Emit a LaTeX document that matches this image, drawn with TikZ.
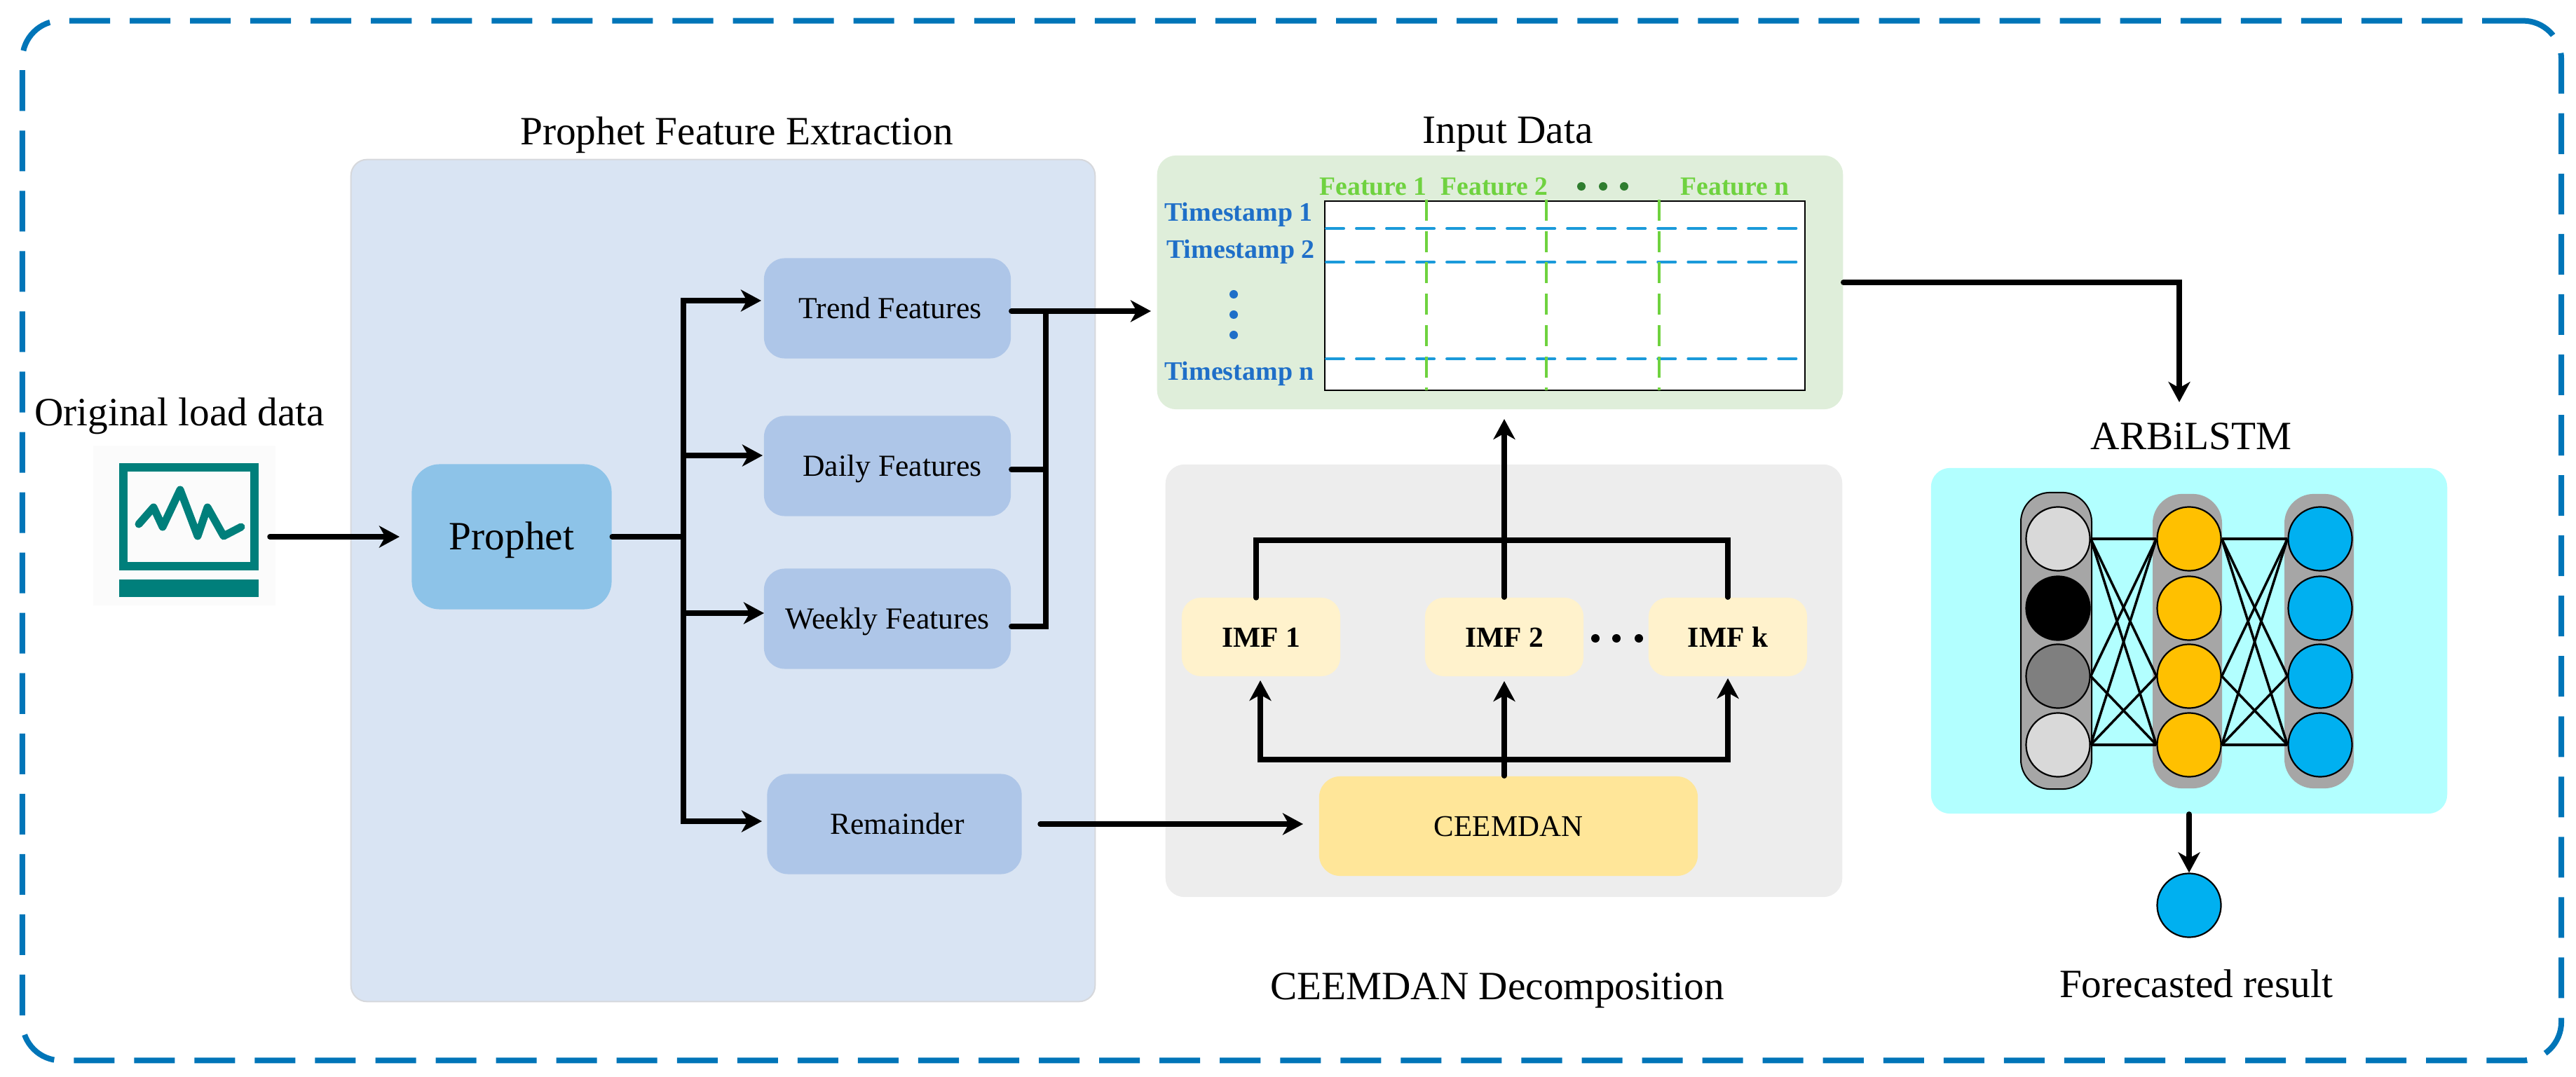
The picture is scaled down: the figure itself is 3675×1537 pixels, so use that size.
\documentclass[tikz,border=0pt]{standalone}
\usepackage{fontspec}
\setmainfont{Liberation Serif}
\usetikzlibrary{arrows.meta}

\definecolor{framecol}{HTML}{0075B8}
\definecolor{panelblue}{HTML}{D9E4F3}
\definecolor{panelline}{HTML}{D6D8DC}
\definecolor{prophetcol}{HTML}{8DC3E8}
\definecolor{featcol}{HTML}{AEC6E8}
\definecolor{inputcol}{HTML}{DFEEDA}
\definecolor{ceemcol}{HTML}{EDEDED}
\definecolor{imfcol}{HTML}{FFF2CC}
\definecolor{ceemboxcol}{HTML}{FFE699}
\definecolor{lstmcol}{HTML}{B2FFFF}
\definecolor{pillcol}{HTML}{A6A6A6}
\definecolor{iconcol}{HTML}{007F7B}
\definecolor{iconback}{HTML}{FBFBFB}
\definecolor{featgreen}{HTML}{6FD23F}
\definecolor{dotgreen}{HTML}{2F7D2F}
\definecolor{stampblue}{HTML}{1F6FC8}
\definecolor{rowblue}{HTML}{1B9ADA}
\definecolor{netlight}{HTML}{D9D9D9}
\definecolor{netdark}{HTML}{7F7F7F}
\definecolor{netyellow}{HTML}{FFC000}
\definecolor{netblue}{HTML}{00B0F0}

\tikzset{
  every picture/.style={x=.01cm, y=-.01cm},
  dot/.style={circle, fill=black, minimum size=#1,
                inner sep=0pt, outer sep=0pt},
  dot/.default={.12cm},
  title/.style={anchor=base, inner sep=0pt, font=\fontsize{16.3}{18}\selectfont},
  panel/.style={rounded corners=.27cm, inner sep=0pt},
  prophetbox/.style={panel, fill=prophetcol, rounded corners=.4cm,
                minimum width=2.85cm, minimum height=2.07cm,
                font=\fontsize{16.3}{18}\selectfont, text height=10.8pt, text depth=0pt},
  featbox/.style={panel, fill=featcol, rounded corners=.3cm,
                minimum width=3.52cm, minimum height=1.43cm,
                font=\fontsize{12.4}{14}\selectfont, text height=8.5pt, text depth=0pt},
  imfbox/.style={panel, fill=imfcol, minimum width=2.26cm, minimum height=1.12cm,
                font=\fontsize{11.8}{14}\selectfont\bfseries, text height=8pt, text depth=0pt},
  stamp/.style={anchor=base, inner sep=0pt, text=stampblue,
                font=\fontsize{10.8}{12}\selectfont\bfseries},
  feat/.style={anchor=base, inner sep=0pt, text=featgreen,
                font=\fontsize{10.7}{12}\selectfont\bfseries},
  conn/.style={line width=.075cm, line cap=round},
  arrow/.style={conn, -{Stealth[length=.29cm, width=.31cm, inset=.085cm]}},
  griddash/.style={featgreen, line width=.032cm, dash pattern=on .3cm off .147cm},
  rowdash/.style={rowblue, line width=.04cm, line cap=round, dash pattern=on .25cm off .18cm},
  pill/.style={fill=pillcol, rounded corners=.42cm, minimum width=.99cm,
                minimum height=4.2cm, inner sep=0pt},
  neuron/.style={circle, draw=black, line width=.022cm, minimum size=.91cm, inner sep=0pt},
  netline/.style={line width=.035cm},
}

\begin{document}
\begin{tikzpicture}
  \useasboundingbox (0,0) rectangle (3675,1537);

  % outer frame
  \node[draw=framecol, line width=.08cm, rounded corners=.55cm, inner sep=0pt,
        dash pattern=on .58cm off .28cm,
        minimum width=36.2cm, minimum height=14.83cm] (frame) at (1843,771.5) {};

  % panels
  \node[panel, fill=panelblue, draw=panelline, line width=.02cm, rounded corners=.23cm,
        minimum width=10.61cm, minimum height=12.01cm] (prophetpanel) at (1031.5,828.5) {};
  \node[panel, fill=inputcol, minimum width=9.78cm, minimum height=3.62cm] (inputpanel) at (2140,403) {};
  \node[panel, fill=ceemcol, minimum width=9.65cm, minimum height=6.17cm] (ceempanel) at (2145.5,971.5) {};
  \node[panel, fill=lstmcol, minimum width=7.36cm, minimum height=4.93cm] (lstmpanel) at (3123,914.5) {};

  % titles
  \node[title] (origtitle) at (256,608) {Original load data};
  \node[title] (prophettitle) at (1051,207) {Prophet Feature Extraction};
  \node[title] (inputtitle) at (2151,205) {Input Data};
  \node[title] (ceemtitle) at (2136,1426) {CEEMDAN Decomposition};
  \node[title] (lstmtitle) at (3126,642) {ARBiLSTM};
  \node[title] (resulttitle) at (3133,1423) {Forecasted result};

  % data icon
  \node[fill=iconback, minimum width=2.6cm, minimum height=2.28cm, inner sep=0pt] (icon) at (263,750) {};
  \draw[iconcol, line width=.125cm] (176,667) rectangle (363,808);
  \fill[iconcol] (170,827) rectangle (369,852);
  \draw[iconcol, line width=.11cm, line join=round, line cap=round]
    (198,748) -- (219,724) -- (232,752) -- (257,699) -- (282,765) -- (296,724) -- (319,765) -- (344,752);

  % prophet part
  \node[prophetbox] (prophet) at (730,766) {Prophet};
  \node[featbox] (trend) at (1266,440) {\hspace*{.08cm}Trend Features};% hack for text offset
  \node[featbox] (daily) at (1266,665) {\hspace*{.14cm}Daily Features};
  \node[featbox] (weekly) at (1266,883) {Weekly Features};
  \node[featbox, minimum width=3.63cm] (remainder) at (1276,1176) {\hspace*{.08cm}Remainder};

  \coordinate (iconout) at (385,766);
  \coordinate (prophetin) at (570,766);
  \coordinate (split) at (975,766);
  \coordinate (trendin) at (1086,429);
  \coordinate (dailyin) at (1088,650);
  \coordinate (weeklyin) at (1090,875);
  \coordinate (remainin) at (1087,1172);
  \coordinate (merge) at (1492,444);
  \coordinate (inputin) at (1642,444);
  \coordinate (remainout) at (1484,1176);
  \coordinate (ceemin) at (1859,1176);

  \draw[arrow] (iconout) -- (prophetin);
  \draw[conn] (prophet.east) -- (split);
  \draw[arrow] (split) |- (trendin);
  \draw[arrow] (split |- dailyin) -- (dailyin);
  \draw[arrow] (split |- weeklyin) -- (weeklyin);
  \draw[arrow] (split) |- (remainin);
  \draw[arrow] (trend.east |- merge) -- (inputin);
  \draw[conn] (daily.east |- 0,670) -- (merge |- 0,670);
  \draw[conn] (merge) |- (weekly.east |- 0,894);
  \draw[arrow] (remainout) -- (ceemin);

  % input data table
  \node[draw=black, fill=white, line width=.025cm, inner sep=0pt,
        minimum width=6.85cm, minimum height=2.7cm] (table) at (2232.5,422) {};
  \foreach \y in {326,374,512}
    \draw[rowdash] (1892,\y) -- (2565,\y);
  \foreach \x in {2035,2206,2367}
    \draw[griddash] (\x,285) -- (\x,557);
  \node[feat] (feat1) at (1959,279) {Feature 1};
  \node[feat] (feat2) at (2132,279) {Feature 2};
  \node[feat] (featn) at (2475,279) {Feature n};
  \foreach \x [count=\p] in {2256,2287,2317}
    \node[dot, fill=dotgreen] (featdot\p) at (\x,266) {};
  \node[stamp] (stamp1) at (1767,316) {Timestamp 1};
  \node[stamp] (stamp2) at (1770,369) {Timestamp 2};
  \node[stamp] (stampn) at (1768,543) {Timestamp n};
  \foreach \y [count=\p] in {420,449,478}
    \node[dot, fill=stampblue] (stampdot\p) at (1760,\y) {};

  % ceemdan part
  \node[panel, fill=ceemboxcol, rounded corners=.3cm, minimum width=5.4cm, minimum height=1.42cm,
        font=\fontsize{12.2}{14}\selectfont, text height=8.5pt, text depth=0pt] (ceemdan) at (2152,1179) {CEEMDAN};
  \node[imfbox] (imf1) at (1799,909) {IMF 1};
  \node[imfbox] (imf2) at (2146,909) {IMF 2};
  \node[imfbox] (imfk) at (2465,909) {IMF k};
  \foreach \x [count=\p] in {2276,2306,2338}
    \node[dot] (imfdot\p) at (\x,911) {};

  \coordinate (upper) at (2146,771);
  \coordinate (lower) at (2146,1084);
  \coordinate (inputup) at (2146,598);
  \coordinate (imf1out) at (1792,853);
  \coordinate (imf1in) at (1798,971);
  \coordinate (imf2in) at (2146,972);
  \coordinate (imfkin) at (2465,968);
  \draw[conn] (imf1out) |- (imfk.north |- upper) -- (imfk.north);
  \draw[arrow] (imf2.north) -- (inputup);
  \draw[conn] (lower |- ceemdan.north) -- (lower);
  \draw[arrow] (lower) -| (imf1in);
  \draw[arrow] (lower) -- (imf2in);
  \draw[arrow] (lower) -| (imfkin);

  % output of the input data
  \coordinate (lstmin) at (3109,574);
  \draw[arrow, line width=.08cm] (inputpanel.east) -| (lstmin);

  % network
  \node[pill, draw=black, line width=.02cm, minimum width=1.01cm, minimum height=4.23cm] (pill1) at (2933.5,914.5) {};
  \node[pill] (pill2) at (3120.5,915) {};
  \node[pill] (pill3) at (3308.5,915) {};

  \foreach \y/\col [count=\p] in {769/netlight,868/black,965/netdark,1063/netlight}
    \node[neuron, fill=\col] (a\p) at (2936,\y) {};
  \foreach \y [count=\p] in {769,868,965,1063}{
    \node[neuron, fill=netyellow] (b\p) at (3123,\y) {};
    \node[neuron, fill=netblue] (c\p) at (3310,\y) {};
  }
  \foreach \s/\t in {a/b,b/c}{
    \foreach \i/\j in {1/1,1/3,1/4,3/1,3/4,4/1,4/3,4/4}
      \draw[netline] (\s\i.east) -- (\t\j.west);
  }

  % result
  \node[neuron, fill=netblue] (result) at (3123,1292) {};
  \draw[arrow] (lstmpanel.south) -- (result.north);
\end{tikzpicture}
\end{document}
